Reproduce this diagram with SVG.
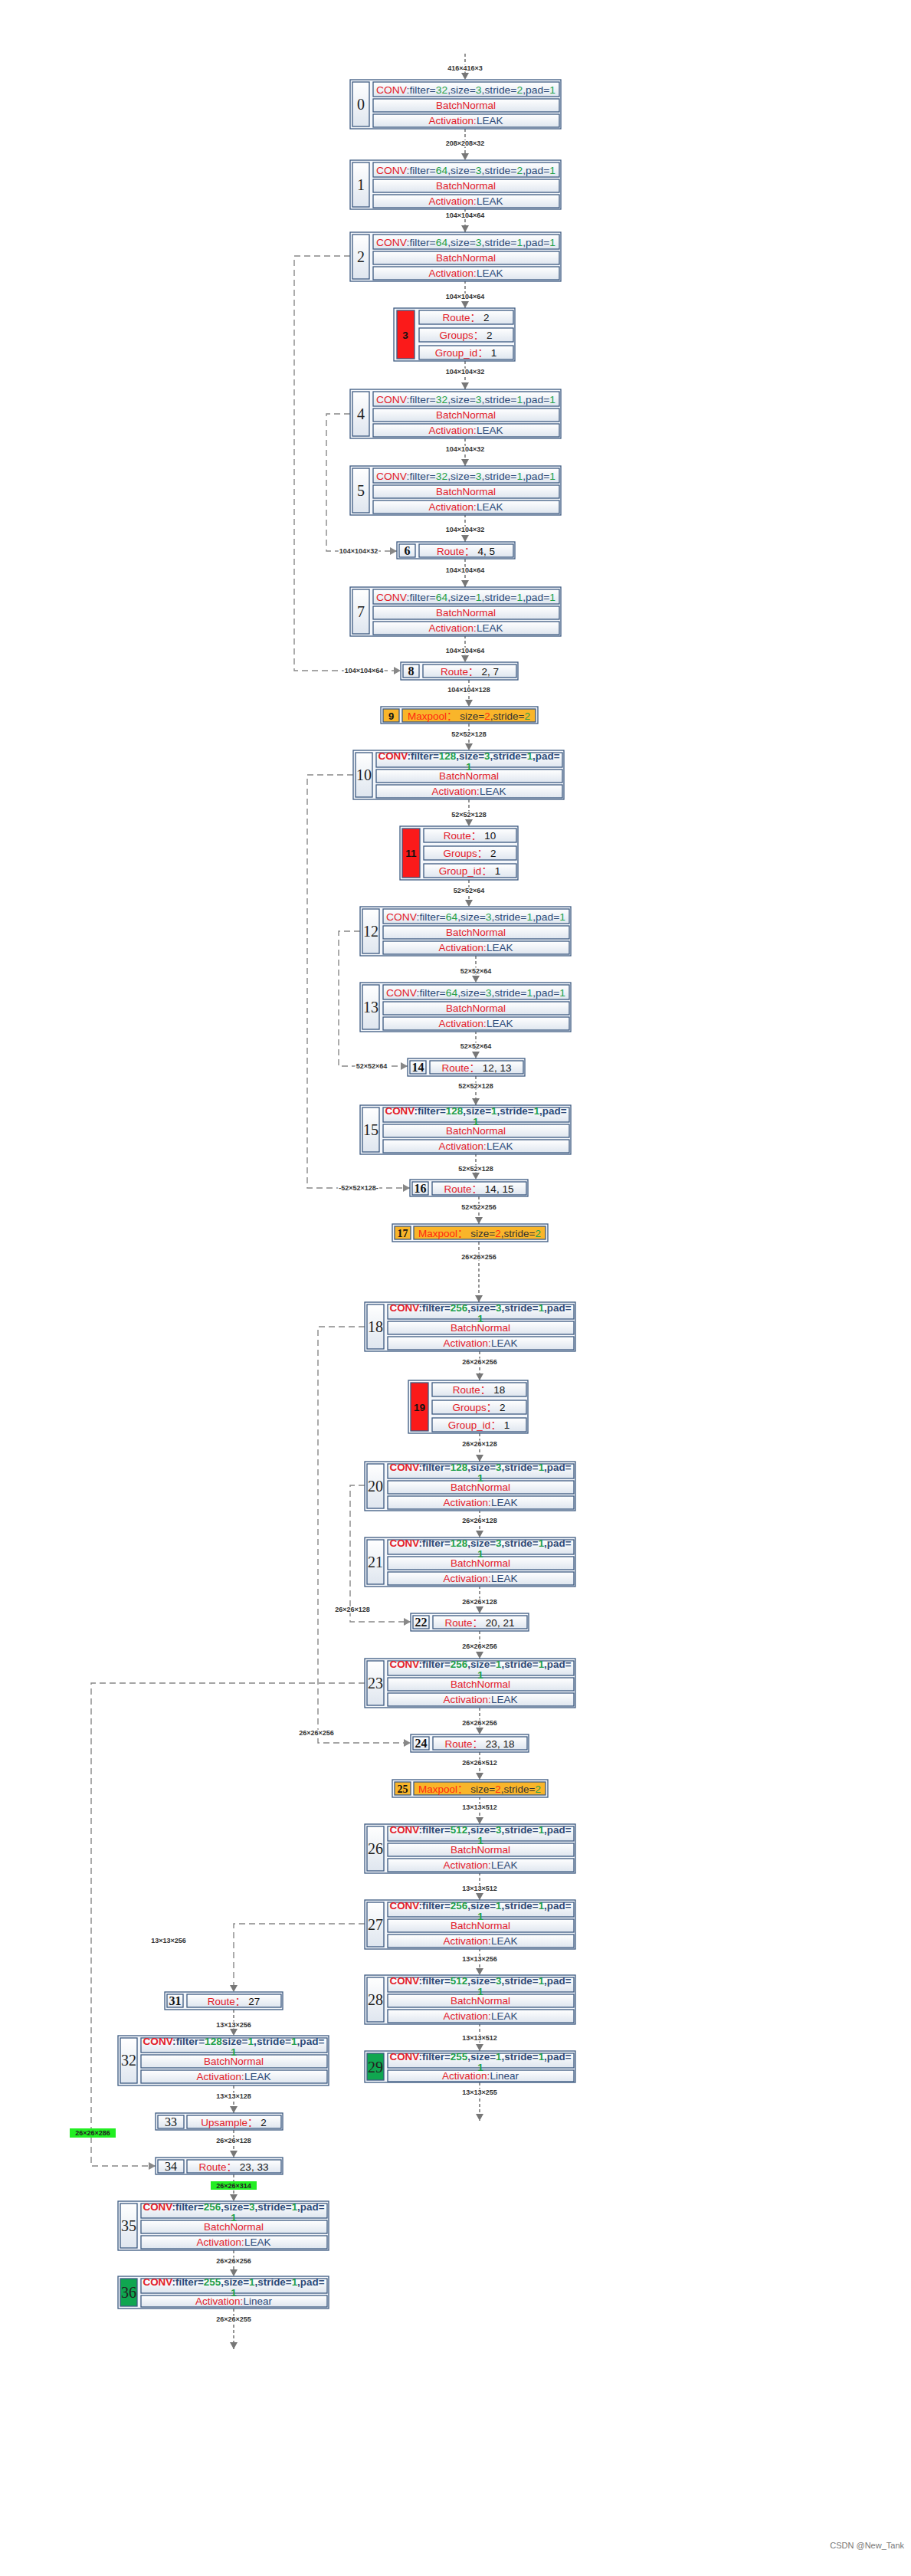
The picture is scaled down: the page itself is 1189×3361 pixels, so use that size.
<svg xmlns="http://www.w3.org/2000/svg" width="1189" height="3361" viewBox="0 0 1189 3361">
<defs>
<linearGradient id="gr" x1="0" y1="0" x2="0" y2="1"><stop offset="0" stop-color="#ffffff"/><stop offset="1" stop-color="#dfe6ef"/></linearGradient>
<marker id="ah" markerUnits="userSpaceOnUse" markerWidth="12" markerHeight="10" refX="6" refY="9" orient="0" viewBox="0 0 12 10"><path d="M1,0 L11,0 L6,9 Z" fill="#777"/></marker>
<marker id="ar" markerUnits="userSpaceOnUse" markerWidth="10" markerHeight="12" refX="9" refY="6" orient="0" viewBox="0 0 10 12"><path d="M0,1 L9,6 L0,11 Z" fill="#888"/></marker>
<style>
.o{fill:#f4f7fb;stroke:#3d5a80;stroke-width:1.3}
.r{fill:url(#gr);stroke:#3d5a80;stroke-width:1.3}
.y{fill:#f9b52a;stroke:#3d5a80;stroke-width:1.3}
.red{fill:#fb1a1a;stroke:#3d5a80;stroke-width:1.3}
.grn{fill:#10a650;stroke:#3d5a80;stroke-width:1.3}
.t{font-family:"Liberation Sans",Arial,"Noto Sans CJK SC",sans-serif;font-size:13.5px;fill:#2d4a78;text-anchor:middle}
.b{font-weight:bold}
.rd{fill:#e3202a}.g{fill:#21a04a}.k{fill:#111}.or{fill:#ff2a10}
.num{font-family:"Liberation Serif",serif;font-size:20px;fill:#222;text-anchor:middle}
.sn{font-family:"Liberation Serif",serif;font-size:16px;font-weight:bold;fill:#111;text-anchor:middle}
.dl{font-family:"Liberation Sans",Arial,sans-serif;font-size:9px;font-weight:bold;fill:#333;text-anchor:middle;stroke:#fff;stroke-width:3;paint-order:stroke}
.gl{font-family:"Liberation Sans",Arial,sans-serif;font-size:9px;font-weight:bold;fill:#222;text-anchor:middle}
.v{fill:none;stroke:#7a7a7a;stroke-width:1.6;stroke-dasharray:4 3}
.s{fill:none;stroke:#888;stroke-width:1.4;stroke-dasharray:8 5}
</style>
</defs>
<rect width="1189" height="3361" fill="#fff"/>

<g id="connectors">
<path class="v" d="M607,70V104" marker-end="url(#ah)"/>
<path class="v" d="M607,168V209" marker-end="url(#ah)"/>
<path class="v" d="M607,272V303" marker-end="url(#ah)"/>
<path class="v" d="M607,366V402" marker-end="url(#ah)"/>
<path class="v" d="M607,471V508" marker-end="url(#ah)"/>
<path class="v" d="M607,572V608" marker-end="url(#ah)"/>
<path class="v" d="M607,671V707" marker-end="url(#ah)"/>
<path class="v" d="M607,729V766" marker-end="url(#ah)"/>
<path class="v" d="M607,829V864" marker-end="url(#ah)"/>
<path class="v" d="M612,887V922" marker-end="url(#ah)"/>
<path class="v" d="M612,944V979" marker-end="url(#ah)"/>
<path class="v" d="M612,1043V1078" marker-end="url(#ah)"/>
<path class="v" d="M612,1148V1183" marker-end="url(#ah)"/>
<path class="v" d="M621,1247V1282" marker-end="url(#ah)"/>
<path class="v" d="M621,1345V1381" marker-end="url(#ah)"/>
<path class="v" d="M621,1404V1442" marker-end="url(#ah)"/>
<path class="v" d="M621,1505V1539" marker-end="url(#ah)"/>
<path class="v" d="M625,1561V1597" marker-end="url(#ah)"/>
<path class="v" d="M625,1620V1699" marker-end="url(#ah)"/>
<path class="v" d="M626,1763V1801" marker-end="url(#ah)"/>
<path class="v" d="M626,1870V1907" marker-end="url(#ah)"/>
<path class="v" d="M626,1970V2006" marker-end="url(#ah)"/>
<path class="v" d="M626,2069V2105" marker-end="url(#ah)"/>
<path class="v" d="M626,2128V2164" marker-end="url(#ah)"/>
<path class="v" d="M626,2228V2263" marker-end="url(#ah)"/>
<path class="v" d="M626,2286V2322" marker-end="url(#ah)"/>
<path class="v" d="M626,2344V2380" marker-end="url(#ah)"/>
<path class="v" d="M626,2443V2479" marker-end="url(#ah)"/>
<path class="v" d="M626,2542V2577" marker-end="url(#ah)"/>
<path class="v" d="M626,2640V2676" marker-end="url(#ah)"/>
<path class="v" d="M626,2717V2767" marker-end="url(#ah)"/>
<path class="v" d="M305,2622V2656" marker-end="url(#ah)"/>
<path class="v" d="M305,2721V2757" marker-end="url(#ah)"/>
<path class="v" d="M305,2779V2815" marker-end="url(#ah)"/>
<path class="v" d="M305,2837V2872" marker-end="url(#ah)"/>
<path class="v" d="M305,2936V2970" marker-end="url(#ah)"/>
<path class="v" d="M305,3012V3065" marker-end="url(#ah)"/>

<path class="s" d="M457,334H384V875H523" marker-end="url(#ar)"/>
<path class="s" d="M457,540H426V719H518" marker-end="url(#ar)"/>
<path class="s" d="M461,1011H401V1550H535" marker-end="url(#ar)"/>
<path class="s" d="M470,1215H442V1391H532" marker-end="url(#ar)"/>
<path class="s" d="M476,1731H415V2274H536" marker-end="url(#ar)"/>
<path class="s" d="M476,1938H457V2116H536" marker-end="url(#ar)"/>
<path class="s" d="M476,2196H119V2826H203" marker-end="url(#ar)"/>
<path class="s" d="M476,2510H305V2599" marker-end="url(#ah)"/>

<text class="dl" x="607" y="92">416×416×3</text>
<text class="dl" x="607" y="190">208×208×32</text>
<text class="dl" x="607" y="284">104×104×64</text>
<text class="dl" x="607" y="390">104×104×64</text>
<text class="dl" x="607" y="488">104×104×32</text>
<text class="dl" x="607" y="589">104×104×32</text>
<text class="dl" x="607" y="694">104×104×32</text>
<text class="dl" x="607" y="747">104×104×64</text>
<text class="dl" x="607" y="852">104×104×64</text>
<text class="dl" x="612" y="903">104×104×128</text>
<text class="dl" x="612" y="961">52×52×128</text>
<text class="dl" x="612" y="1066">52×52×128</text>
<text class="dl" x="612" y="1165">52×52×64</text>
<text class="dl" x="621" y="1270">52×52×64</text>
<text class="dl" x="621" y="1368">52×52×64</text>
<text class="dl" x="621" y="1420">52×52×128</text>
<text class="dl" x="621" y="1528">52×52×128</text>
<text class="dl" x="625" y="1578">52×52×256</text>
<text class="dl" x="625" y="1643">26×26×256</text>
<text class="dl" x="626" y="1780">26×26×256</text>
<text class="dl" x="626" y="1887">26×26×128</text>
<text class="dl" x="626" y="1987">26×26×128</text>
<text class="dl" x="626" y="2093">26×26×128</text>
<text class="dl" x="626" y="2151">26×26×256</text>
<text class="dl" x="626" y="2251">26×26×256</text>
<text class="dl" x="626" y="2303">26×26×512</text>
<text class="dl" x="626" y="2361">13×13×512</text>
<text class="dl" x="626" y="2467">13×13×512</text>
<text class="dl" x="626" y="2559">13×13×256</text>
<text class="dl" x="626" y="2662">13×13×512</text>
<text class="dl" x="626" y="2733">13×13×255</text>
<text class="dl" x="305" y="2645">13×13×256</text>
<text class="dl" x="305" y="2738">13×13×128</text>
<text class="dl" x="305" y="2796">26×26×128</text>
<rect x="275" y="2846" width="60" height="11" fill="#22ee22"/>
<text class="gl" x="305" y="2855">26×26×314</text>
<text class="dl" x="305" y="2953">26×26×256</text>
<text class="dl" x="305" y="3029">26×26×255</text>

<text class="dl" x="475" y="878">104×104×64</text>
<text class="dl" x="468" y="722">104×104×32</text>
<text class="dl" x="468" y="1553">-52×52×128-</text>
<text class="dl" x="485" y="1394">52×52×64</text>
<text class="dl" x="413" y="2264">26×26×256</text>
<text class="dl" x="460" y="2103">26×26×128</text>
<rect x="91" y="2777" width="60" height="12" fill="#22ee22"/>
<text class="gl" x="121" y="2786">26×26×286</text>
<text class="dl" x="220" y="2535">13×13×256</text>
</g>

<g id="n0">
<rect class="o" x="457" y="104" width="275" height="64"/><rect class="r" x="460" y="107" width="22" height="58"/>
<rect class="r" x="487" y="107" width="243" height="19"/><rect class="r" x="487" y="129" width="243" height="17"/><rect class="r" x="487" y="149" width="243" height="17"/>
<text class="num" x="471" y="143">0</text>
<text class="t" x="608" y="122" textLength="234" lengthAdjust="spacingAndGlyphs"><tspan class="rd">CONV</tspan>:filter=<tspan class="g">32</tspan>,size=<tspan class="g">3</tspan>,stride=<tspan class="g">2</tspan>,pad=<tspan class="g">1</tspan></text>
<text class="t rd" x="608" y="142">BatchNormal</text>
<text class="t" x="608" y="162"><tspan class="rd">Activation:</tspan>LEAK</text>
</g>
<g id="n1">
<rect class="o" x="457" y="209" width="275" height="64"/><rect class="r" x="460" y="212" width="22" height="58"/>
<rect class="r" x="487" y="212" width="243" height="19"/><rect class="r" x="487" y="234" width="243" height="17"/><rect class="r" x="487" y="254" width="243" height="17"/>
<text class="num" x="471" y="248">1</text>
<text class="t" x="608" y="227" textLength="234" lengthAdjust="spacingAndGlyphs"><tspan class="rd">CONV</tspan>:filter=<tspan class="g">64</tspan>,size=<tspan class="g">3</tspan>,stride=<tspan class="g">2</tspan>,pad=<tspan class="g">1</tspan></text>
<text class="t rd" x="608" y="247">BatchNormal</text>
<text class="t" x="608" y="267"><tspan class="rd">Activation:</tspan>LEAK</text>
</g>
<g id="n2">
<rect class="o" x="457" y="303" width="275" height="64"/><rect class="r" x="460" y="306" width="22" height="58"/>
<rect class="r" x="487" y="306" width="243" height="19"/><rect class="r" x="487" y="328" width="243" height="17"/><rect class="r" x="487" y="348" width="243" height="17"/>
<text class="num" x="471" y="342">2</text>
<text class="t" x="608" y="321" textLength="234" lengthAdjust="spacingAndGlyphs"><tspan class="rd">CONV</tspan>:filter=<tspan class="g">64</tspan>,size=<tspan class="g">3</tspan>,stride=<tspan class="g">1</tspan>,pad=<tspan class="g">1</tspan></text>
<text class="t rd" x="608" y="341">BatchNormal</text>
<text class="t" x="608" y="361"><tspan class="rd">Activation:</tspan>LEAK</text>
</g>
<g id="n3">
<rect class="o" x="514" y="402" width="158" height="69"/><rect class="red" x="518" y="405" width="23" height="63"/>
<rect class="r" x="547" y="405" width="123" height="18"/><rect class="r" x="547" y="428" width="123" height="18"/><rect class="r" x="547" y="451" width="123" height="18"/>
<text class="t b k" x="529" y="442">3</text>
<text class="t" x="608" y="419"><tspan class="rd">Route：</tspan><tspan class="k"> 2</tspan></text>
<text class="t" x="608" y="442"><tspan class="rd">Groups：</tspan><tspan class="k"> 2</tspan></text>
<text class="t" x="608" y="465"><tspan class="rd">Group_id：</tspan><tspan class="k"> 1</tspan></text>
</g>
<g id="n4">
<rect class="o" x="457" y="508" width="275" height="64"/><rect class="r" x="460" y="511" width="22" height="58"/>
<rect class="r" x="487" y="511" width="243" height="19"/><rect class="r" x="487" y="533" width="243" height="17"/><rect class="r" x="487" y="553" width="243" height="17"/>
<text class="num" x="471" y="547">4</text>
<text class="t" x="608" y="526" textLength="234" lengthAdjust="spacingAndGlyphs"><tspan class="rd">CONV</tspan>:filter=<tspan class="g">32</tspan>,size=<tspan class="g">3</tspan>,stride=<tspan class="g">1</tspan>,pad=<tspan class="g">1</tspan></text>
<text class="t rd" x="608" y="546">BatchNormal</text>
<text class="t" x="608" y="566"><tspan class="rd">Activation:</tspan>LEAK</text>
</g>
<g id="n5">
<rect class="o" x="457" y="608" width="275" height="64"/><rect class="r" x="460" y="611" width="22" height="58"/>
<rect class="r" x="487" y="611" width="243" height="19"/><rect class="r" x="487" y="633" width="243" height="17"/><rect class="r" x="487" y="653" width="243" height="17"/>
<text class="num" x="471" y="647">5</text>
<text class="t" x="608" y="626" textLength="234" lengthAdjust="spacingAndGlyphs"><tspan class="rd">CONV</tspan>:filter=<tspan class="g">32</tspan>,size=<tspan class="g">3</tspan>,stride=<tspan class="g">1</tspan>,pad=<tspan class="g">1</tspan></text>
<text class="t rd" x="608" y="646">BatchNormal</text>
<text class="t" x="608" y="666"><tspan class="rd">Activation:</tspan>LEAK</text>
</g>
<g id="n6">
<rect class="o" x="518" y="707" width="154" height="22"/><rect class="r" x="521" y="710" width="21" height="17"/><rect class="r" x="547" y="710" width="123" height="17"/>
<text class="sn" x="531.5" y="724">6</text>
<text class="t" x="608" y="724"><tspan class="rd">Route：</tspan><tspan class="k"> 4, 5</tspan></text>
</g>
<g id="n7">
<rect class="o" x="457" y="766" width="275" height="64"/><rect class="r" x="460" y="769" width="22" height="58"/>
<rect class="r" x="487" y="769" width="243" height="19"/><rect class="r" x="487" y="791" width="243" height="17"/><rect class="r" x="487" y="811" width="243" height="17"/>
<text class="num" x="471" y="805">7</text>
<text class="t" x="608" y="784" textLength="234" lengthAdjust="spacingAndGlyphs"><tspan class="rd">CONV</tspan>:filter=<tspan class="g">64</tspan>,size=<tspan class="g">1</tspan>,stride=<tspan class="g">1</tspan>,pad=<tspan class="g">1</tspan></text>
<text class="t rd" x="608" y="804">BatchNormal</text>
<text class="t" x="608" y="824"><tspan class="rd">Activation:</tspan>LEAK</text>
</g>
<g id="n8">
<rect class="o" x="523" y="864" width="153" height="23"/><rect class="r" x="526" y="867" width="21" height="17"/><rect class="r" x="552" y="867" width="122" height="17"/>
<text class="sn" x="536.5" y="881">8</text>
<text class="t" x="613" y="881"><tspan class="rd">Route：</tspan><tspan class="k"> 2, 7</tspan></text>
</g>
<g id="n9">
<rect class="o" x="497" y="922" width="205" height="22"/><rect class="y" x="500" y="925" width="21" height="17"/><rect class="y" x="525" y="925" width="174" height="17"/>
<text class="sn" x="510.5" y="939" style="font-family:'Liberation Sans',sans-serif;font-size:13px">9</text>
<text class="t" x="612" y="939"><tspan class="or">Maxpool：</tspan><tspan fill="#333"> size=</tspan><tspan class="or">2</tspan><tspan fill="#333">,stride=</tspan><tspan class="g">2</tspan></text>
</g>
<g id="n10">
<rect class="o" x="461" y="979" width="275" height="64"/><rect class="r" x="464" y="982" width="22" height="58"/>
<rect class="r" x="491" y="982" width="243" height="19"/><rect class="r" x="491" y="1004" width="243" height="17"/><rect class="r" x="491" y="1024" width="243" height="17"/>
<text class="num" x="475" y="1018">10</text>
<text class="t b" x="612" y="991" textLength="237" lengthAdjust="spacingAndGlyphs"><tspan class="rd">CONV</tspan>:filter=<tspan class="g">128</tspan>,size=<tspan class="g">3</tspan>,stride=<tspan class="g">1</tspan>,pad=</text>
<text class="t b g" x="612" y="1005">1</text>
<text class="t rd" x="612" y="1017">BatchNormal</text>
<text class="t" x="612" y="1037"><tspan class="rd">Activation:</tspan>LEAK</text>
</g>
<g id="n11">
<rect class="o" x="522" y="1078" width="154" height="70"/><rect class="red" x="525" y="1081" width="23" height="64"/>
<rect class="r" x="553" y="1081" width="121" height="18"/><rect class="r" x="553" y="1104" width="121" height="18"/><rect class="r" x="553" y="1127" width="121" height="18"/>
<text class="t b k" x="536.5" y="1118">11</text>
<text class="t" x="613" y="1095"><tspan class="rd">Route：</tspan><tspan class="k"> 10</tspan></text>
<text class="t" x="613" y="1118"><tspan class="rd">Groups：</tspan><tspan class="k"> 2</tspan></text>
<text class="t" x="613" y="1141"><tspan class="rd">Group_id：</tspan><tspan class="k"> 1</tspan></text>
</g>
<g id="n12">
<rect class="o" x="470" y="1183" width="275" height="64"/><rect class="r" x="473" y="1186" width="22" height="58"/>
<rect class="r" x="500" y="1186" width="243" height="19"/><rect class="r" x="500" y="1208" width="243" height="17"/><rect class="r" x="500" y="1228" width="243" height="17"/>
<text class="num" x="484" y="1222">12</text>
<text class="t" x="621" y="1201" textLength="234" lengthAdjust="spacingAndGlyphs"><tspan class="rd">CONV</tspan>:filter=<tspan class="g">64</tspan>,size=<tspan class="g">3</tspan>,stride=<tspan class="g">1</tspan>,pad=<tspan class="g">1</tspan></text>
<text class="t rd" x="621" y="1221">BatchNormal</text>
<text class="t" x="621" y="1241"><tspan class="rd">Activation:</tspan>LEAK</text>
</g>
<g id="n13">
<rect class="o" x="470" y="1282" width="275" height="64"/><rect class="r" x="473" y="1285" width="22" height="58"/>
<rect class="r" x="500" y="1285" width="243" height="19"/><rect class="r" x="500" y="1307" width="243" height="17"/><rect class="r" x="500" y="1327" width="243" height="17"/>
<text class="num" x="484" y="1321">13</text>
<text class="t" x="621" y="1300" textLength="234" lengthAdjust="spacingAndGlyphs"><tspan class="rd">CONV</tspan>:filter=<tspan class="g">64</tspan>,size=<tspan class="g">3</tspan>,stride=<tspan class="g">1</tspan>,pad=<tspan class="g">1</tspan></text>
<text class="t rd" x="621" y="1320">BatchNormal</text>
<text class="t" x="621" y="1340"><tspan class="rd">Activation:</tspan>LEAK</text>
</g>
<g id="n14">
<rect class="o" x="532" y="1381" width="153" height="23"/><rect class="r" x="535" y="1384" width="21" height="17"/><rect class="r" x="561" y="1384" width="122" height="17"/>
<text class="sn" x="545.5" y="1398">14</text>
<text class="t" x="622" y="1398"><tspan class="rd">Route：</tspan><tspan class="k"> 12, 13</tspan></text>
</g>
<g id="n15">
<rect class="o" x="470" y="1442" width="275" height="64"/><rect class="r" x="473" y="1445" width="22" height="58"/>
<rect class="r" x="500" y="1445" width="243" height="19"/><rect class="r" x="500" y="1467" width="243" height="17"/><rect class="r" x="500" y="1487" width="243" height="17"/>
<text class="num" x="484" y="1481">15</text>
<text class="t b" x="621" y="1454" textLength="237" lengthAdjust="spacingAndGlyphs"><tspan class="rd">CONV</tspan>:filter=<tspan class="g">128</tspan>,size=<tspan class="g">1</tspan>,stride=<tspan class="g">1</tspan>,pad=</text>
<text class="t b g" x="621" y="1468">1</text>
<text class="t rd" x="621" y="1480">BatchNormal</text>
<text class="t" x="621" y="1500"><tspan class="rd">Activation:</tspan>LEAK</text>
</g>
<g id="n16">
<rect class="o" x="535" y="1539" width="154" height="22"/><rect class="r" x="538" y="1542" width="21" height="17"/><rect class="r" x="564" y="1542" width="123" height="17"/>
<text class="sn" x="548.5" y="1556">16</text>
<text class="t" x="625" y="1556"><tspan class="rd">Route：</tspan><tspan class="k"> 14, 15</tspan></text>
</g>
<g id="n17">
<rect class="o" x="512" y="1597" width="203" height="23"/><rect class="y" x="515" y="1600" width="21" height="17"/><rect class="y" x="540" y="1600" width="172" height="17"/>
<text class="sn" x="525.5" y="1614" style="font-size:14px">17</text>
<text class="t" x="626" y="1614"><tspan class="or">Maxpool：</tspan><tspan fill="#333"> size=</tspan><tspan class="or">2</tspan><tspan fill="#333">,stride=</tspan><tspan class="g">2</tspan></text>
</g>
<g id="n18">
<rect class="o" x="476" y="1699" width="275" height="64"/><rect class="r" x="479" y="1702" width="22" height="58"/>
<rect class="r" x="506" y="1702" width="243" height="19"/><rect class="r" x="506" y="1724" width="243" height="17"/><rect class="r" x="506" y="1744" width="243" height="17"/>
<text class="num" x="490" y="1738">18</text>
<text class="t b" x="627" y="1711" textLength="237" lengthAdjust="spacingAndGlyphs"><tspan class="rd">CONV</tspan>:filter=<tspan class="g">256</tspan>,size=<tspan class="g">3</tspan>,stride=<tspan class="g">1</tspan>,pad=</text>
<text class="t b g" x="627" y="1725">1</text>
<text class="t rd" x="627" y="1737">BatchNormal</text>
<text class="t" x="627" y="1757"><tspan class="rd">Activation:</tspan>LEAK</text>
</g>
<g id="n19">
<rect class="o" x="533" y="1801" width="156" height="69"/><rect class="red" x="536" y="1804" width="23" height="63"/>
<rect class="r" x="564" y="1804" width="123" height="18"/><rect class="r" x="564" y="1827" width="123" height="18"/><rect class="r" x="564" y="1850" width="123" height="18"/>
<text class="t b k" x="547.5" y="1841">19</text>
<text class="t" x="625" y="1818"><tspan class="rd">Route：</tspan><tspan class="k"> 18</tspan></text>
<text class="t" x="625" y="1841"><tspan class="rd">Groups：</tspan><tspan class="k"> 2</tspan></text>
<text class="t" x="625" y="1864"><tspan class="rd">Group_id：</tspan><tspan class="k"> 1</tspan></text>
</g>
<g id="n20">
<rect class="o" x="476" y="1907" width="275" height="64"/><rect class="r" x="479" y="1910" width="22" height="58"/>
<rect class="r" x="506" y="1910" width="243" height="19"/><rect class="r" x="506" y="1932" width="243" height="17"/><rect class="r" x="506" y="1952" width="243" height="17"/>
<text class="num" x="490" y="1946">20</text>
<text class="t b" x="627" y="1919" textLength="237" lengthAdjust="spacingAndGlyphs"><tspan class="rd">CONV</tspan>:filter=<tspan class="g">128</tspan>,size=<tspan class="g">3</tspan>,stride=<tspan class="g">1</tspan>,pad=</text>
<text class="t b g" x="627" y="1933">1</text>
<text class="t rd" x="627" y="1945">BatchNormal</text>
<text class="t" x="627" y="1965"><tspan class="rd">Activation:</tspan>LEAK</text>
</g>
<g id="n21">
<rect class="o" x="476" y="2006" width="275" height="64"/><rect class="r" x="479" y="2009" width="22" height="58"/>
<rect class="r" x="506" y="2009" width="243" height="19"/><rect class="r" x="506" y="2031" width="243" height="17"/><rect class="r" x="506" y="2051" width="243" height="17"/>
<text class="num" x="490" y="2045">21</text>
<text class="t b" x="627" y="2018" textLength="237" lengthAdjust="spacingAndGlyphs"><tspan class="rd">CONV</tspan>:filter=<tspan class="g">128</tspan>,size=<tspan class="g">3</tspan>,stride=<tspan class="g">1</tspan>,pad=</text>
<text class="t b g" x="627" y="2032">1</text>
<text class="t rd" x="627" y="2044">BatchNormal</text>
<text class="t" x="627" y="2064"><tspan class="rd">Activation:</tspan>LEAK</text>
</g>
<g id="n22">
<rect class="o" x="536" y="2105" width="154" height="23"/><rect class="r" x="539" y="2108" width="21" height="17"/><rect class="r" x="565" y="2108" width="123" height="17"/>
<text class="sn" x="549.5" y="2122">22</text>
<text class="t" x="626" y="2122"><tspan class="rd">Route：</tspan><tspan class="k"> 20, 21</tspan></text>
</g>
<g id="n23">
<rect class="o" x="476" y="2164" width="275" height="64"/><rect class="r" x="479" y="2167" width="22" height="58"/>
<rect class="r" x="506" y="2167" width="243" height="19"/><rect class="r" x="506" y="2189" width="243" height="17"/><rect class="r" x="506" y="2209" width="243" height="17"/>
<text class="num" x="490" y="2203">23</text>
<text class="t b" x="627" y="2176" textLength="237" lengthAdjust="spacingAndGlyphs"><tspan class="rd">CONV</tspan>:filter=<tspan class="g">256</tspan>,size=<tspan class="g">1</tspan>,stride=<tspan class="g">1</tspan>,pad=</text>
<text class="t b g" x="627" y="2190">1</text>
<text class="t rd" x="627" y="2202">BatchNormal</text>
<text class="t" x="627" y="2222"><tspan class="rd">Activation:</tspan>LEAK</text>
</g>
<g id="n24">
<rect class="o" x="536" y="2263" width="154" height="23"/><rect class="r" x="539" y="2266" width="21" height="17"/><rect class="r" x="565" y="2266" width="123" height="17"/>
<text class="sn" x="549.5" y="2280">24</text>
<text class="t" x="626" y="2280"><tspan class="rd">Route：</tspan><tspan class="k"> 23, 18</tspan></text>
</g>
<g id="n25">
<rect class="o" x="512" y="2322" width="203" height="23"/><rect class="y" x="515" y="2325" width="21" height="17"/><rect class="y" x="540" y="2325" width="172" height="17"/>
<text class="sn" x="525.5" y="2339" style="font-size:14px">25</text>
<text class="t" x="626" y="2339"><tspan class="or">Maxpool：</tspan><tspan fill="#333"> size=</tspan><tspan class="or">2</tspan><tspan fill="#333">,stride=</tspan><tspan class="g">2</tspan></text>
</g>
<g id="n26">
<rect class="o" x="476" y="2380" width="275" height="64"/><rect class="r" x="479" y="2383" width="22" height="58"/>
<rect class="r" x="506" y="2383" width="243" height="19"/><rect class="r" x="506" y="2405" width="243" height="17"/><rect class="r" x="506" y="2425" width="243" height="17"/>
<text class="num" x="490" y="2419">26</text>
<text class="t b" x="627" y="2392" textLength="237" lengthAdjust="spacingAndGlyphs"><tspan class="rd">CONV</tspan>:filter=<tspan class="g">512</tspan>,size=<tspan class="g">3</tspan>,stride=<tspan class="g">1</tspan>,pad=</text>
<text class="t b g" x="627" y="2406">1</text>
<text class="t rd" x="627" y="2418">BatchNormal</text>
<text class="t" x="627" y="2438"><tspan class="rd">Activation:</tspan>LEAK</text>
</g>
<g id="n27">
<rect class="o" x="476" y="2479" width="275" height="64"/><rect class="r" x="479" y="2482" width="22" height="58"/>
<rect class="r" x="506" y="2482" width="243" height="19"/><rect class="r" x="506" y="2504" width="243" height="17"/><rect class="r" x="506" y="2524" width="243" height="17"/>
<text class="num" x="490" y="2518">27</text>
<text class="t b" x="627" y="2491" textLength="237" lengthAdjust="spacingAndGlyphs"><tspan class="rd">CONV</tspan>:filter=<tspan class="g">256</tspan>,size=<tspan class="g">1</tspan>,stride=<tspan class="g">1</tspan>,pad=</text>
<text class="t b g" x="627" y="2505">1</text>
<text class="t rd" x="627" y="2517">BatchNormal</text>
<text class="t" x="627" y="2537"><tspan class="rd">Activation:</tspan>LEAK</text>
</g>
<g id="n28">
<rect class="o" x="476" y="2577" width="275" height="64"/><rect class="r" x="479" y="2580" width="22" height="58"/>
<rect class="r" x="506" y="2580" width="243" height="19"/><rect class="r" x="506" y="2602" width="243" height="17"/><rect class="r" x="506" y="2622" width="243" height="17"/>
<text class="num" x="490" y="2616">28</text>
<text class="t b" x="627" y="2589" textLength="237" lengthAdjust="spacingAndGlyphs"><tspan class="rd">CONV</tspan>:filter=<tspan class="g">512</tspan>,size=<tspan class="g">3</tspan>,stride=<tspan class="g">1</tspan>,pad=</text>
<text class="t b g" x="627" y="2603">1</text>
<text class="t rd" x="627" y="2615">BatchNormal</text>
<text class="t" x="627" y="2635"><tspan class="rd">Activation:</tspan>LEAK</text>
</g>
<g id="n29">
<rect class="o" x="476" y="2676" width="275" height="41"/><rect class="grn" x="479" y="2679" width="22" height="35"/>
<rect class="r" x="506" y="2679" width="243" height="19"/><rect class="r" x="506" y="2701" width="243" height="15"/>
<text class="num" x="490" y="2704">29</text>
<text class="t b" x="627" y="2688" textLength="237" lengthAdjust="spacingAndGlyphs"><tspan class="rd">CONV</tspan>:filter=<tspan class="g">255</tspan>,size=<tspan class="g">1</tspan>,stride=<tspan class="g">1</tspan>,pad=</text>
<text class="t b g" x="627" y="2702">1</text>
<text class="t" x="627" y="2713"><tspan class="rd">Activation:</tspan>Linear</text>
</g>
<g id="n31">
<rect class="o" x="215" y="2599" width="154" height="23"/><rect class="r" x="218" y="2602" width="21" height="17"/><rect class="r" x="244" y="2602" width="123" height="17"/>
<text class="sn" x="228.5" y="2616">31</text>
<text class="t" x="305" y="2616"><tspan class="rd">Route：</tspan><tspan class="k"> 27</tspan></text>
</g>
<g id="n32">
<rect class="o" x="154" y="2656" width="275" height="65"/><rect class="r" x="157" y="2659" width="22" height="59"/>
<rect class="r" x="184" y="2659" width="243" height="19"/><rect class="r" x="184" y="2681" width="243" height="17"/><rect class="r" x="184" y="2701" width="243" height="17"/>
<text class="num" x="168" y="2695">32</text>
<text class="t b" x="305" y="2668" textLength="237" lengthAdjust="spacingAndGlyphs"><tspan class="rd">CONV</tspan>:filter=<tspan class="g">128</tspan>size=<tspan class="g">1</tspan>,stride=<tspan class="g">1</tspan>,pad=</text>
<text class="t b g" x="305" y="2682">1</text>
<text class="t rd" x="305" y="2694">BatchNormal</text>
<text class="t" x="305" y="2714"><tspan class="rd">Activation:</tspan>LEAK</text>
</g>
<g id="n33">
<rect class="o" x="203" y="2757" width="166" height="22"/><rect class="r" x="206" y="2760" width="34" height="17"/><rect class="r" x="244" y="2760" width="123" height="17"/>
<text class="sn" x="223" y="2774" style="font-weight:normal">33</text>
<text class="t" x="305" y="2774"><tspan class="rd">Upsample：</tspan><tspan class="k"> 2</tspan></text>
</g>
<g id="n34">
<rect class="o" x="203" y="2815" width="166" height="22"/><rect class="r" x="206" y="2818" width="34" height="17"/><rect class="r" x="244" y="2818" width="123" height="17"/>
<text class="sn" x="223" y="2832" style="font-weight:normal">34</text>
<text class="t" x="305" y="2832"><tspan class="rd">Route：</tspan><tspan class="k"> 23, 33</tspan></text>
</g>
<g id="n35">
<rect class="o" x="154" y="2872" width="275" height="64"/><rect class="r" x="157" y="2875" width="22" height="58"/>
<rect class="r" x="184" y="2875" width="243" height="19"/><rect class="r" x="184" y="2897" width="243" height="17"/><rect class="r" x="184" y="2917" width="243" height="17"/>
<text class="num" x="168" y="2911">35</text>
<text class="t b" x="305" y="2884" textLength="237" lengthAdjust="spacingAndGlyphs"><tspan class="rd">CONV</tspan>:filter=<tspan class="g">256</tspan>,size=<tspan class="g">3</tspan>,stride=<tspan class="g">1</tspan>,pad=</text>
<text class="t b g" x="305" y="2898">1</text>
<text class="t rd" x="305" y="2910">BatchNormal</text>
<text class="t" x="305" y="2930"><tspan class="rd">Activation:</tspan>LEAK</text>
</g>
<g id="n36">
<rect class="o" x="154" y="2970" width="275" height="42"/><rect class="grn" x="157" y="2973" width="22" height="36"/>
<rect class="r" x="184" y="2973" width="243" height="19"/><rect class="r" x="184" y="2995" width="243" height="15"/>
<text class="num" x="168" y="2998">36</text>
<text class="t b" x="305" y="2982" textLength="237" lengthAdjust="spacingAndGlyphs"><tspan class="rd">CONV</tspan>:filter=<tspan class="g">255</tspan>,size=<tspan class="g">1</tspan>,stride=<tspan class="g">1</tspan>,pad=</text>
<text class="t b g" x="305" y="2996">1</text>
<text class="t" x="305" y="3007"><tspan class="rd">Activation:</tspan>Linear</text>
</g>
<text x="1180" y="3325" style="font-family:'Liberation Sans',Arial,sans-serif;font-size:11px;fill:#777;text-anchor:end">CSDN @New_Tank</text>
</svg>
